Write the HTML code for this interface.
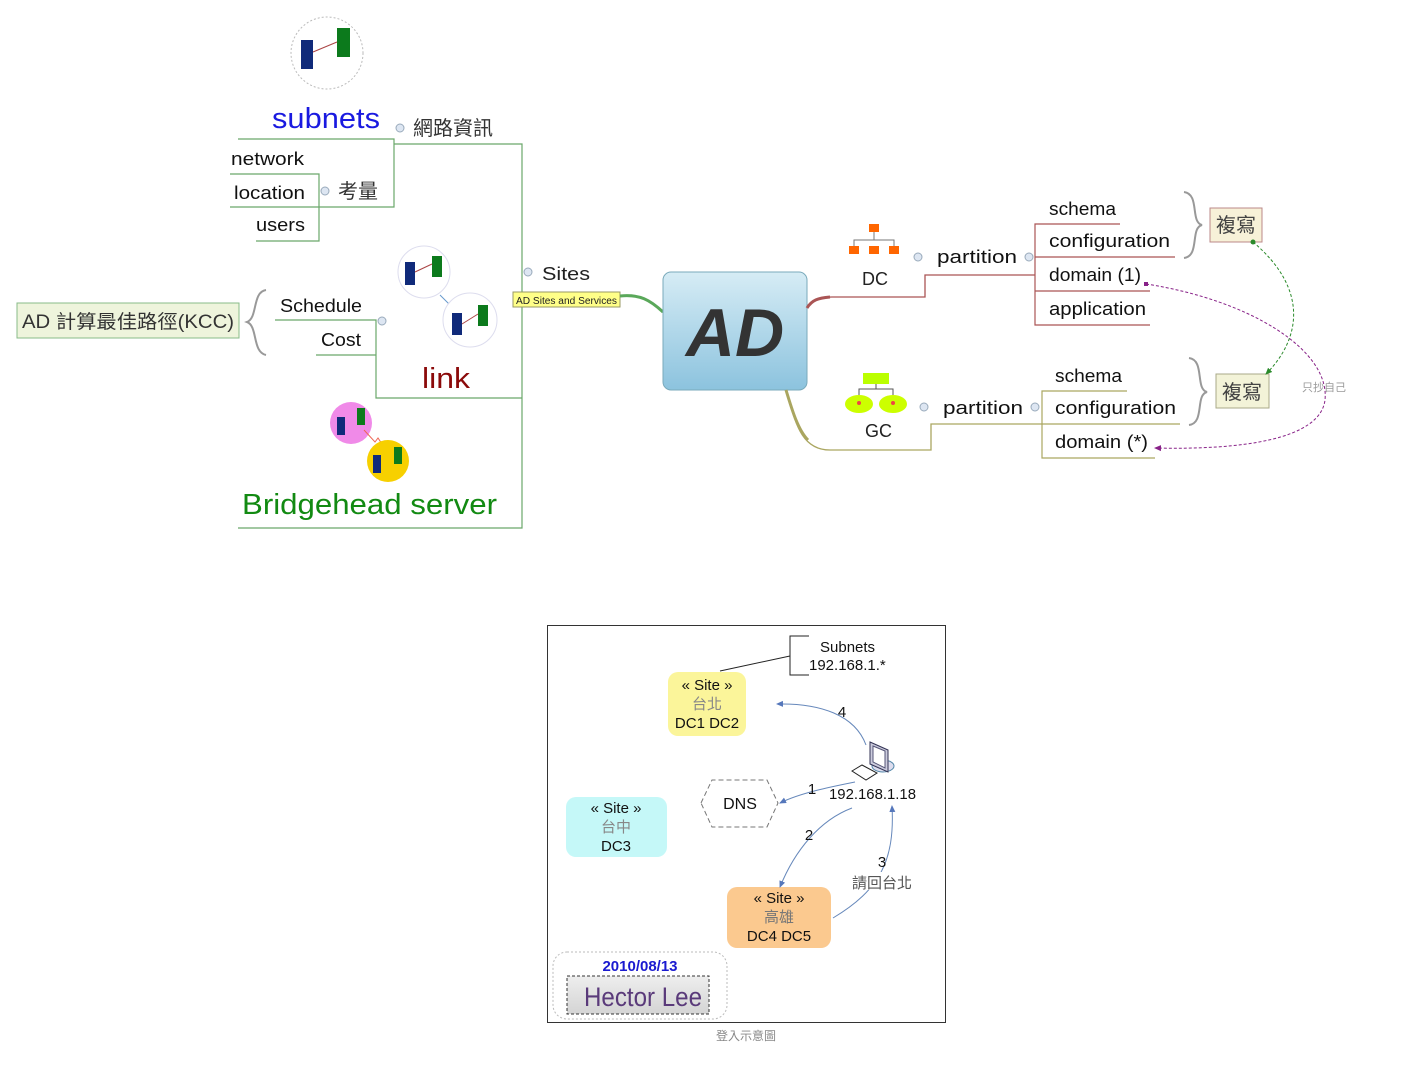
<!DOCTYPE html>
<html><head><meta charset="utf-8"><style>
html,body{margin:0;padding:0;background:#fff;}
svg{display:block;}
text{font-family:"Liberation Sans","Noto Sans CJK TC",sans-serif;}
</style></head><body>
<svg width="1422" height="1067" viewBox="0 0 1422 1067" xmlns="http://www.w3.org/2000/svg">
<defs>
<linearGradient id="adg" x1="0" y1="0" x2="0" y2="1"><stop offset="0" stop-color="#d6ecf5"/><stop offset="1" stop-color="#8cc3de"/></linearGradient>
<linearGradient id="sig" x1="0" y1="0" x2="0" y2="1"><stop offset="0" stop-color="#eee"/><stop offset="1" stop-color="#d4d4d4"/></linearGradient>
<marker id="ab" markerWidth="8" markerHeight="8" refX="6" refY="4" orient="auto"><path d="M0,1 L7,4 L0,7 z" fill="#5577bb"/></marker>
<marker id="ag" markerWidth="8" markerHeight="8" refX="6" refY="4" orient="auto"><path d="M0,1 L7,4 L0,7 z" fill="#2a8a2a"/></marker>
<marker id="ap" markerWidth="8" markerHeight="8" refX="6" refY="4" orient="auto"><path d="M0,1 L7,4 L0,7 z" fill="#882288"/></marker>
</defs>

<g fill="none" stroke="#6aa86a" stroke-width="1.2">
<path d="M238,139 H394 V207 H230"/>
<path d="M394,144 H522 V528 H238"/>
<path d="M230,174 H319 V241 H256"/>
<path d="M275,320 H376 V398 H522"/>
<path d="M316,355 H376"/>
</g>
<circle cx="327" cy="53" r="36" fill="#fff" stroke="#bbb" stroke-dasharray="2,2"/>
<rect x="301" y="40" width="12" height="29" fill="#102a7a"/>
<rect x="337" y="28" width="13" height="29" fill="#0c7a1c"/>
<line x1="313" y1="52" x2="337" y2="42" stroke="#a44"/>
<text x="272" y="128" font-size="29" fill="#1a1ae0" textLength="108" lengthAdjust="spacingAndGlyphs">subnets</text>
<circle cx="400" cy="128" r="4" fill="#dde6f2" stroke="#9ab"/>
<text x="413" y="135" font-size="20" fill="#333">網路資訊</text>
<text x="231" y="165" font-size="18" fill="#111" textLength="73" lengthAdjust="spacingAndGlyphs">network</text>
<text x="234" y="199" font-size="18" fill="#111" textLength="71" lengthAdjust="spacingAndGlyphs">location</text>
<text x="256" y="231" font-size="18" fill="#111" textLength="49" lengthAdjust="spacingAndGlyphs">users</text>
<circle cx="325" cy="191" r="4" fill="#dde6f2" stroke="#9ab"/>
<text x="338" y="198" font-size="20" fill="#333">考量</text>
<circle cx="528" cy="272" r="4" fill="#dde6f2" stroke="#9ab"/>
<text x="542" y="280" font-size="18" fill="#222" textLength="48" lengthAdjust="spacingAndGlyphs">Sites</text>
<rect x="513" y="292" width="107" height="15" fill="#ffff88" stroke="#996"/>
<text x="516" y="304" font-size="10" fill="#222" font-family="Liberation Serif" textLength="101" lengthAdjust="spacingAndGlyphs">AD Sites and Services</text>
<circle cx="424" cy="272" r="26" fill="#fff" stroke="#dde"/>
<rect x="405" y="262" width="10" height="23" fill="#102a7a"/><rect x="432" y="256" width="10" height="21" fill="#0c7a1c"/>
<line x1="415" y1="272" x2="432" y2="264" stroke="#a44"/>
<line x1="440" y1="295" x2="452" y2="307" stroke="#69c"/>
<circle cx="470" cy="320" r="27" fill="#fff" stroke="#dde"/>
<rect x="452" y="313" width="10" height="22" fill="#102a7a"/><rect x="478" y="305" width="10" height="21" fill="#0c7a1c"/>
<line x1="462" y1="324" x2="478" y2="314" stroke="#a44"/>
<text x="422" y="388" font-size="29" fill="#8b0a0a" textLength="48" lengthAdjust="spacingAndGlyphs">link</text>
<circle cx="382" cy="321" r="4" fill="#dde6f2" stroke="#9ab"/>
<text x="280" y="312" font-size="18" fill="#111" textLength="82" lengthAdjust="spacingAndGlyphs">Schedule</text>
<text x="321" y="346" font-size="18" fill="#111" textLength="40" lengthAdjust="spacingAndGlyphs">Cost</text>
<path d="M266,290 C252,292 258,318 247,322 C258,326 252,352 266,355" fill="none" stroke="#999" stroke-width="2"/>
<rect x="17" y="303" width="222" height="35" fill="#eef4dc" stroke="#8b8"/>
<text x="22" y="328" font-size="19" fill="#333" textLength="212" lengthAdjust="spacingAndGlyphs">AD 計算最佳路徑(KCC)</text>
<circle cx="351" cy="423" r="21" fill="#f08ae8"/>
<rect x="337" y="417" width="8" height="18" fill="#102a7a"/><rect x="357" y="408" width="8" height="17" fill="#0c7a1c"/>
<path d="M364,430 L375,442 L378,438 L386,450" fill="none" stroke="#e65"/>
<circle cx="388" cy="461" r="21" fill="#f7d000"/>
<rect x="373" y="455" width="8" height="18" fill="#102a7a"/><rect x="394" y="447" width="8" height="17" fill="#0c7a1c"/>
<text x="242" y="514" font-size="29" fill="#128a12" textLength="255" lengthAdjust="spacingAndGlyphs">Bridgehead server</text>

<path d="M620,296 C640,294 650,300 663,312" fill="none" stroke="#5aa85a" stroke-width="3"/>

<rect x="663" y="272" width="144" height="118" rx="8" fill="url(#adg)" stroke="#7aaabb"/>
<text x="735" y="356" font-size="68" font-style="italic" font-weight="bold" fill="#333" text-anchor="middle">AD</text>

<path d="M807,307 C815,298 822,297 832,297 H925 V275 H1035" fill="none" stroke="#a55" stroke-width="1.3"/>
<path d="M807,308 C812,300 818,298 830,297" fill="none" stroke="#a55" stroke-width="3"/>
<g fill="none" stroke="#a55" stroke-width="1.2">
<path d="M1120,224 H1035 V325 H1150"/>
<path d="M1035,257 H1175"/><path d="M1035,291 H1150"/>
</g>
<rect x="869" y="224" width="10" height="8" fill="#f60"/>
<path d="M874,232 V240 M854,246 V240 H894 V246" fill="none" stroke="#777"/>
<rect x="849" y="246" width="10" height="8" fill="#f60"/><rect x="869" y="246" width="10" height="8" fill="#f60"/><rect x="889" y="246" width="10" height="8" fill="#f60"/>
<text x="862" y="285" font-size="18" fill="#222">DC</text>
<circle cx="918" cy="257" r="4" fill="#dde6f2" stroke="#9ab"/>
<text x="937" y="263" font-size="18" fill="#111" textLength="80" lengthAdjust="spacingAndGlyphs">partition</text>
<circle cx="1029" cy="257" r="4" fill="#dde6f2" stroke="#9ab"/>
<text x="1049" y="215" font-size="18" fill="#111" textLength="67" lengthAdjust="spacingAndGlyphs">schema</text>
<text x="1049" y="247" font-size="18" fill="#111" textLength="121" lengthAdjust="spacingAndGlyphs">configuration</text>
<text x="1049" y="281" font-size="18" fill="#111" textLength="92" lengthAdjust="spacingAndGlyphs">domain (1)</text>
<text x="1049" y="315" font-size="18" fill="#111" textLength="97" lengthAdjust="spacingAndGlyphs">application</text>
<path d="M1184,192 C1200,194 1190,222 1202,225 C1190,228 1200,256 1184,258" fill="none" stroke="#999" stroke-width="2"/>
<rect x="1210" y="208" width="52" height="34" fill="#f7f1d8" stroke="#b88"/>
<text x="1236" y="232" font-size="20" fill="#444" text-anchor="middle">複寫</text>

<path d="M786,390 C795,420 800,450 830,450 H931 V424 H1042" fill="none" stroke="#aaa660" stroke-width="1.3"/>
<path d="M786,390 C792,410 798,430 808,440" fill="none" stroke="#aaa660" stroke-width="3"/>
<g fill="none" stroke="#aaa660" stroke-width="1.2">
<path d="M1127,391 H1042 V458 H1155"/><path d="M1042,424 H1180"/>
</g>
<rect x="863" y="373" width="26" height="11" fill="#bf0"/>
<path d="M876,384 V389 M859,395 V389 H893 V395" fill="none" stroke="#555"/>
<ellipse cx="859" cy="404" rx="14" ry="9" fill="#cf0"/><ellipse cx="893" cy="404" rx="14" ry="9" fill="#cf0"/>
<circle cx="859" cy="403" r="2" fill="#e44"/><circle cx="893" cy="403" r="2" fill="#e44"/>
<text x="865" y="437" font-size="18" fill="#222">GC</text>
<circle cx="924" cy="407" r="4" fill="#dde6f2" stroke="#9ab"/>
<text x="943" y="414" font-size="18" fill="#111" textLength="80" lengthAdjust="spacingAndGlyphs">partition</text>
<circle cx="1035" cy="407" r="4" fill="#dde6f2" stroke="#9ab"/>
<text x="1055" y="382" font-size="18" fill="#111" textLength="67" lengthAdjust="spacingAndGlyphs">schema</text>
<text x="1055" y="414" font-size="18" fill="#111" textLength="121" lengthAdjust="spacingAndGlyphs">configuration</text>
<text x="1055" y="448" font-size="18" fill="#111" textLength="93" lengthAdjust="spacingAndGlyphs">domain (*)</text>
<path d="M1189,358 C1205,360 1195,389 1207,392 C1195,395 1205,423 1189,425" fill="none" stroke="#999" stroke-width="2"/>
<rect x="1216" y="374" width="53" height="34" fill="#f3f3d8" stroke="#aa8"/>
<text x="1242" y="399" font-size="20" fill="#444" text-anchor="middle">複寫</text>

<path d="M1253,242 C1310,290 1300,340 1266,374" fill="none" stroke="#2a8a2a" stroke-dasharray="3,2" marker-end="url(#ag)"/>
<circle cx="1253" cy="242" r="2.5" fill="#2a8a2a"/>
<path d="M1146,284 C1250,300 1330,350 1325,400 C1320,440 1240,450 1155,448" fill="none" stroke="#882288" stroke-dasharray="3,2" marker-end="url(#ap)"/>
<rect x="1144" y="282" width="4" height="4" fill="#882288"/>
<text x="1302" y="391" font-size="11" fill="#999">只抄自己</text>

<rect x="547.5" y="625.5" width="398" height="397" fill="#fff" stroke="#333"/>
<path d="M809,636 H790 V675 H809" fill="none" stroke="#222"/>
<line x1="790" y1="656" x2="720" y2="671" stroke="#222"/>
<text x="820" y="652" font-size="15" fill="#111">Subnets</text>
<text x="809" y="670" font-size="15" fill="#111">192.168.1.*</text>
<rect x="668" y="672" width="78" height="64" rx="10" fill="#fbf59a"/>
<text x="707" y="690" font-size="15" fill="#111" text-anchor="middle">« Site »</text>
<text x="707" y="709" font-size="15" fill="#888" text-anchor="middle">台北</text>
<text x="707" y="728" font-size="15" fill="#111" text-anchor="middle">DC1  DC2</text>
<rect x="566" y="797" width="101" height="60" rx="10" fill="#c5f8f8"/>
<text x="616" y="813" font-size="15" fill="#111" text-anchor="middle">« Site »</text>
<text x="616" y="832" font-size="15" fill="#888" text-anchor="middle">台中</text>
<text x="616" y="851" font-size="15" fill="#111" text-anchor="middle">DC3</text>
<rect x="727" y="887" width="104" height="61" rx="10" fill="#fbc98f"/>
<text x="779" y="903" font-size="15" fill="#111" text-anchor="middle">« Site »</text>
<text x="779" y="922" font-size="15" fill="#777" text-anchor="middle">高雄</text>
<text x="779" y="941" font-size="15" fill="#111" text-anchor="middle">DC4  DC5</text>
<polygon points="701,803 712,780 767,780 778,803 767,827 712,827" fill="#fff" stroke="#777" stroke-dasharray="5,3"/>
<text x="740" y="809" font-size="16" fill="#111" text-anchor="middle">DNS</text>
<ellipse cx="883" cy="766" rx="11" ry="6" fill="#dde" stroke="#58a"/>
<polygon points="870,742 888,750 888,772 870,764" fill="#ccd" stroke="#335"/>
<polygon points="873,746 885,751 885,768 873,762" fill="#fff" stroke="#557"/>
<polygon points="852,771 862,765 877,773 866,780" fill="#fff" stroke="#222"/>
<text x="829" y="799" font-size="15" fill="#111" textLength="87" lengthAdjust="spacingAndGlyphs">192.168.1.18</text>
<g fill="none" stroke="#6688bb" stroke-width="1">
<path d="M866,745 C855,715 820,703 777,704" marker-end="url(#ab)"/>
<path d="M855,782 C830,787 800,793 780,803" marker-end="url(#ab)"/>
<path d="M852,808 C820,820 795,850 780,887" marker-end="url(#ab)"/>
<path d="M833,918 C880,890 895,860 892,806" marker-end="url(#ab)"/>
</g>
<text x="842" y="717" font-size="15" fill="#111" text-anchor="middle">4</text>
<text x="812" y="794" font-size="15" fill="#111" text-anchor="middle">1</text>
<text x="809" y="840" font-size="15" fill="#111" text-anchor="middle">2</text>
<text x="882" y="867" font-size="15" fill="#111" text-anchor="middle">3</text>
<rect x="852" y="872" width="62" height="18" fill="#fff"/>
<text x="882" y="888" font-size="15" fill="#555" text-anchor="middle">請回台北</text>
<rect x="553" y="952" width="174" height="67" rx="14" fill="#fff" stroke="#bbb" stroke-dasharray="2,2"/>
<text x="640" y="971" font-size="15" font-weight="bold" fill="#1a1ad0" text-anchor="middle">2010/08/13</text>
<rect x="567" y="976" width="142" height="38" fill="url(#sig)" stroke="#333" stroke-dasharray="3,2"/>
<text x="643" y="1006" font-size="27" fill="#5a3a7a" text-anchor="middle" textLength="118" lengthAdjust="spacingAndGlyphs">Hector Lee</text>
<text x="746" y="1040" font-size="12" fill="#888" text-anchor="middle">登入示意圖</text>
</svg>
</body></html>
